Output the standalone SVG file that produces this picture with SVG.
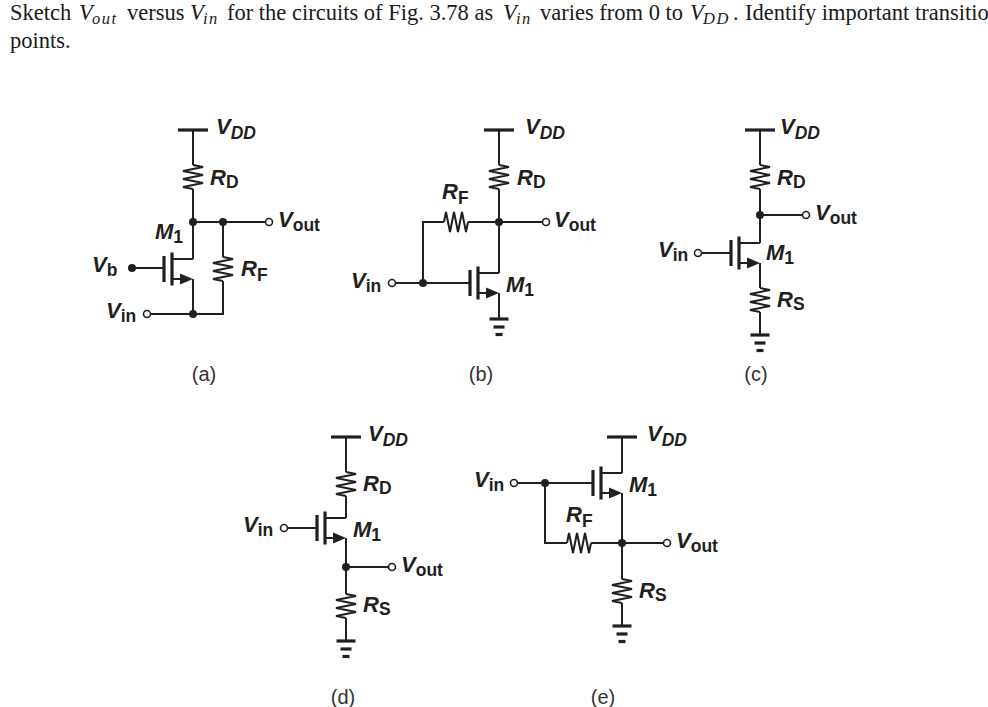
<svg xmlns="http://www.w3.org/2000/svg" width="988" height="707" viewBox="0 0 988 707">
<style>
.w{fill:none;stroke:#231f20;stroke-width:2;stroke-linejoin:miter}
.b{fill:none;stroke:#231f20;stroke-width:3.2}
.d{fill:#231f20}
.o{fill:#fff;stroke:#231f20;stroke-width:1.6}
.l{font:italic bold 22px "Liberation Sans",Arial,sans-serif;fill:#231f20}
.si{font:italic bold 17.500px "Liberation Sans",Arial,sans-serif}
.sr{font:normal bold 17.500px "Liberation Sans",Arial,sans-serif}
.c{font:20px "Liberation Sans",Arial,sans-serif;fill:#333;text-anchor:middle}
.h{font:22.500px "Liberation Serif","Times New Roman",serif;fill:#1a1a1a}
.hi{font:italic 22.500px "Liberation Serif","Times New Roman",serif;fill:#1a1a1a}
.hs{font:italic 16.500px "Liberation Serif","Times New Roman",serif;letter-spacing:1.500px;fill:#1a1a1a}
</style>
<defs>
<path id="res" class="w" d="M0 0L10 2L-10 6L10 10L-10 14L10 18L-10 22L0 24"/>
<g id="mos"><path class="b" d="M-29-13V13M-21-16.500V16.500"/><path class="w" d="M-21-10H0M-21 10H-8"/><path class="d" d="M0 10L-13 4.500V15.500Z"/></g>
<g id="vdd"><path class="b" d="M-15 0H15"/></g>
<g id="gnd"><path class="b" d="M-9.500 0H9.500"/><path class="b" d="M-5.500 8H5.500"/><path class="b" d="M-3.500 15.500H3.500"/></g>
<circle id="dot" class="d" r="4"/>
<circle id="port" class="o" r="3.500"/>
</defs>

<g id="problem-text">
<text class="h" x="10" y="20">Sketch</text><text class="hi" x="79" y="20">V</text><text class="hs" x="92" y="24">out</text>
<text class="h" x="127" y="20">versus</text><text class="hi" x="190" y="20">V</text><text class="hs" x="203" y="24">in</text>
<text class="h" x="227" y="20">for the circuits of Fig. 3.78 as</text><text class="hi" x="503" y="20">V</text><text class="hs" x="516" y="24">in</text>
<text class="h" x="540" y="20">varies from 0 to</text><text class="hi" x="690" y="20">V</text><text class="hs" x="703" y="24">DD</text>
<text class="h" x="733" y="20">.</text><text class="h" x="745" y="20">Identify important transition</text>
<text class="h" x="10" y="48">points.</text>
</g>

<g id="connectors">
<path class="w" d="M193 130V165M193 189V259M193 279V314M193 222H265.500M223 222V257M223 281V314H193M150.500 314H193M132 268H163"/>
<path class="w" d="M499 130V165M499 189V273M499 293V319M499 222H542.500M499 222H468M444 222H423V283M395.500 283H470"/>
<path class="w" d="M760 130V165M760 189V243M760 263V288M760 312V335M760 215H802.500M701.500 253H732"/>
<path class="w" d="M346 437V472M346 496V518M346 538V594M346 618V641M346 567H388.500M287.500 528H317"/>
<path class="w" d="M622 437V473M622 493V579M622 603V626M622 543H663.500M622 543H591M567 543H545V483M517.500 483H593"/>
</g>

<g id="circuit-a">
<g id="a-vdd"><use href="#vdd" x="193" y="130"/><text class="l" x="216" y="134">V<tspan class="si" dy="5">DD</tspan></text></g>
<g id="a-rd"><use href="#res" x="193" y="165"/><text class="l" x="210" y="185">R<tspan class="sr" dy="3">D</tspan></text></g>
<g id="a-rf"><use href="#res" x="223" y="257"/><text class="l" x="241" y="276">R<tspan class="sr" dy="5">F</tspan></text></g>
<g id="a-m1"><use href="#mos" x="193" y="269"/><text class="l" x="155" y="239">M<tspan class="sr" dy="4">1</tspan></text></g>
<g id="a-nout"><use href="#dot" x="193" y="222"/><use href="#dot" x="223" y="222"/></g>
<g id="a-vout"><use href="#port" x="269" y="222"/><text class="l" x="278" y="227">V<tspan class="sr" dy="4">out</tspan></text></g>
<g id="a-vb"><use href="#dot" x="132" y="268"/><text class="l" x="92" y="272">V<tspan class="sr" dy="4">b</tspan></text></g>
<g id="a-vin"><use href="#dot" x="193" y="314"/><use href="#port" x="147" y="314"/><text class="l" x="106" y="318">V<tspan class="sr" dy="4">in</tspan></text></g>
<text id="a-cap" class="c" x="204" y="381">(a)</text>
</g>

<g id="circuit-b">
<g id="b-vdd"><use href="#vdd" x="499" y="130"/><text class="l" x="525" y="134">V<tspan class="si" dy="5">DD</tspan></text></g>
<g id="b-rd"><use href="#res" x="499" y="165"/><text class="l" x="517" y="185">R<tspan class="sr" dy="3">D</tspan></text></g>
<g id="b-rf"><use href="#res" transform="translate(444 222) rotate(-90)"/><text class="l" x="442" y="199">R<tspan class="sr" dy="5">F</tspan></text></g>
<g id="b-m1"><use href="#mos" x="499" y="283"/><text class="l" x="506" y="292">M<tspan class="sr" dy="4">1</tspan></text></g>
<g id="b-gnd"><use href="#gnd" x="499" y="319"/></g>
<g id="b-nout"><use href="#dot" x="499" y="222"/></g>
<g id="b-vout"><use href="#port" x="546" y="222"/><text class="l" x="554" y="227">V<tspan class="sr" dy="4">out</tspan></text></g>
<g id="b-vin"><use href="#dot" x="423" y="283"/><use href="#port" x="392" y="283"/><text class="l" x="351" y="288">V<tspan class="sr" dy="4">in</tspan></text></g>
<text id="b-cap" class="c" x="481" y="381">(b)</text>
</g>

<g id="circuit-c">
<g id="c-vdd"><use href="#vdd" x="760" y="130"/><text class="l" x="780" y="134">V<tspan class="si" dy="5">DD</tspan></text></g>
<g id="c-rd"><use href="#res" x="760" y="165"/><text class="l" x="777" y="185">R<tspan class="sr" dy="3">D</tspan></text></g>
<g id="c-m1"><use href="#mos" x="760" y="253"/><text class="l" x="766" y="260">M<tspan class="sr" dy="4">1</tspan></text></g>
<g id="c-rs"><use href="#res" x="760" y="288"/><text class="l" x="777" y="307">R<tspan class="sr" dy="3">S</tspan></text></g>
<g id="c-gnd"><use href="#gnd" x="760" y="335"/></g>
<g id="c-nout"><use href="#dot" x="760" y="215"/></g>
<g id="c-vout"><use href="#port" x="806" y="215"/><text class="l" x="815" y="220">V<tspan class="sr" dy="4">out</tspan></text></g>
<g id="c-vin"><use href="#port" x="698" y="253"/><text class="l" x="658" y="257">V<tspan class="sr" dy="4">in</tspan></text></g>
<text id="c-cap" class="c" x="756" y="381">(c)</text>
</g>

<g id="circuit-d">
<g id="d-vdd"><use href="#vdd" x="346" y="437"/><text class="l" x="368" y="441">V<tspan class="si" dy="5">DD</tspan></text></g>
<g id="d-rd"><use href="#res" x="346" y="472"/><text class="l" x="363" y="491">R<tspan class="sr" dy="3">D</tspan></text></g>
<g id="d-m1"><use href="#mos" x="346" y="528"/><text class="l" x="353" y="537">M<tspan class="sr" dy="4">1</tspan></text></g>
<g id="d-rs"><use href="#res" x="346" y="594"/><text class="l" x="363" y="612">R<tspan class="sr" dy="3">S</tspan></text></g>
<g id="d-gnd"><use href="#gnd" x="346" y="641"/></g>
<g id="d-nout"><use href="#dot" x="346" y="567"/></g>
<g id="d-vout"><use href="#port" x="392" y="567"/><text class="l" x="401" y="572">V<tspan class="sr" dy="4">out</tspan></text></g>
<g id="d-vin"><use href="#port" x="284" y="528"/><text class="l" x="243" y="532">V<tspan class="sr" dy="4">in</tspan></text></g>
<text id="d-cap" class="c" x="343" y="704">(d)</text>
</g>

<g id="circuit-e">
<g id="e-vdd"><use href="#vdd" x="622" y="437"/><text class="l" x="647" y="441">V<tspan class="si" dy="5">DD</tspan></text></g>
<g id="e-m1"><use href="#mos" x="622" y="483"/><text class="l" x="629" y="492">M<tspan class="sr" dy="4">1</tspan></text></g>
<g id="e-rf"><use href="#res" transform="translate(567 543) rotate(-90)"/><text class="l" x="566" y="522">R<tspan class="sr" dy="5">F</tspan></text></g>
<g id="e-rs"><use href="#res" x="622" y="579"/><text class="l" x="639" y="598">R<tspan class="sr" dy="3">S</tspan></text></g>
<g id="e-gnd"><use href="#gnd" x="622" y="626"/></g>
<g id="e-nout"><use href="#dot" x="622" y="543"/></g>
<g id="e-vout"><use href="#port" x="667" y="543"/><text class="l" x="676" y="548">V<tspan class="sr" dy="4">out</tspan></text></g>
<g id="e-vin"><use href="#dot" x="545" y="483"/><use href="#port" x="514" y="483"/><text class="l" x="474" y="487">V<tspan class="sr" dy="4">in</tspan></text></g>
<text id="e-cap" class="c" x="603" y="704">(e)</text>
</g>
</svg>
